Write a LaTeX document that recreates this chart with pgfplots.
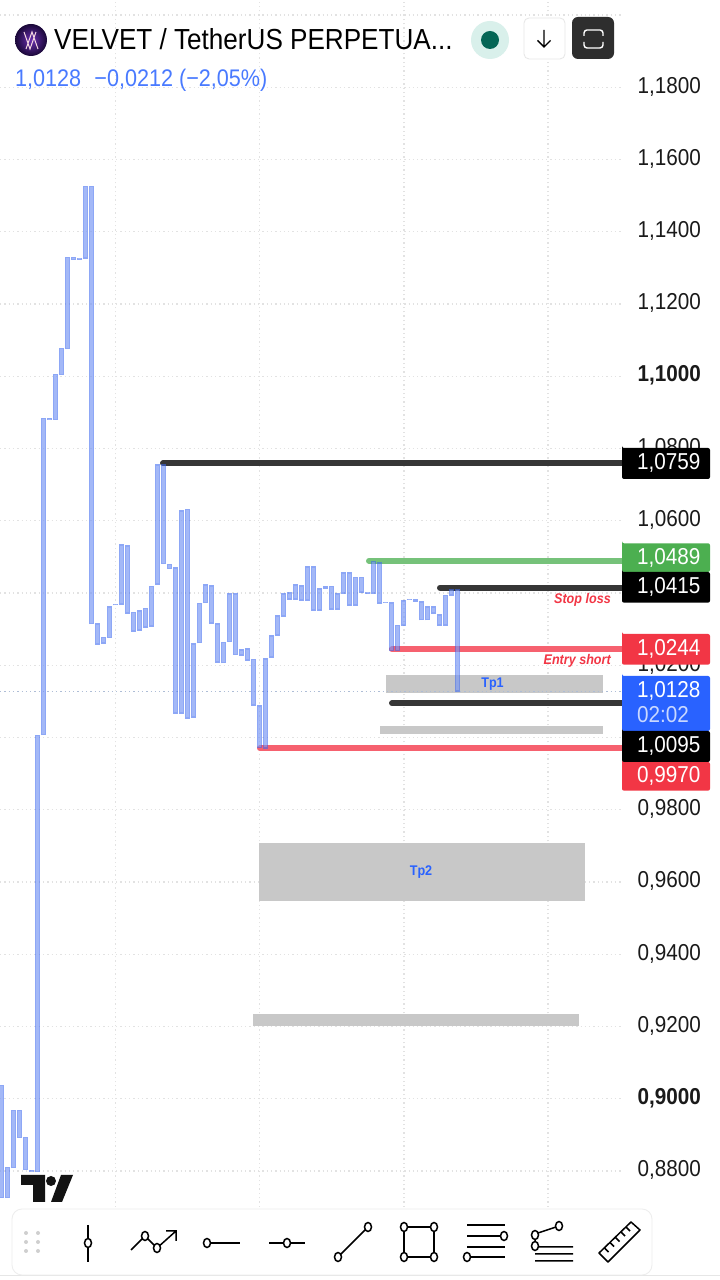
\documentclass[border=0pt]{standalone}
\usepackage{pgfplots}
\usepackage{pgfplotstable}
\usepackage{fontspec}
\pgfplotsset{compat=1.18}
\setmainfont{Liberation Sans}
\newfontfamily\rb[FakeStretch=0.9]{Liberation Sans}
\definecolor{gridc}{HTML}{E2E2E2}
\definecolor{barc}{HTML}{3C68F0}
\definecolor{tvblue}{HTML}{2962FF}
\definecolor{tvred}{HTML}{F23645}
\definecolor{tvgreen}{HTML}{4CAF50}
\definecolor{lnblack}{HTML}{363636}
\definecolor{lnred}{HTML}{F6616F}
\definecolor{lngreen}{HTML}{76C27A}
\definecolor{rectc}{HTML}{C8C8C8}
\definecolor{txtc}{HTML}{1A1A1A}
\definecolor{logoa}{HTML}{6A2FB0}
\definecolor{logob}{HTML}{1A0838}
\definecolor{dotbg}{HTML}{D9F0EB}
\definecolor{dotfg}{HTML}{056656}
\definecolor{btnedge}{HTML}{E6E6E6}
\definecolor{btndark}{HTML}{2E2E2E}
\definecolor{tvmark}{HTML}{131313}
\definecolor{baredge}{HTML}{EDEDED}
\definecolor{gripc}{HTML}{CFCFCF}
\definecolor{lastc}{HTML}{AEBDD6}
\pgfplotstableread{
x low high
1.3 0.8726 0.9038
7.3 0.8725 0.8811
13.3 0.8808 0.8969
19.3 0.8892 0.8969
25.3 0.8803 0.8894
31.3 0.8797 0.8803
37.3 0.8797 1.0007
43.3 1.0007 1.0885
49.3 1.0879 1.0885
55.3 1.0879 1.1006
61.3 1.1004 1.1078
67.3 1.1076 1.1330
73.3 1.1322 1.1330
79.3 1.1323 1.1328
85.3 1.1326 1.1527
91.3 1.0314 1.1527
97.3 1.0257 1.0316
103.3 1.0260 1.0278
109.3 1.0276 1.0363
115.3 1.0366 1.0370
121.3 1.0368 1.0535
127.3 1.0343 1.0532
133.3 1.0293 1.0347
139.3 1.0296 1.0352
145.3 1.0304 1.0358
151.3 1.0307 1.0419
157.3 1.0423 1.0756
163.3 1.0481 1.0756
169.3 1.0467 1.0480
175.3 1.0066 1.0471
181.3 1.0066 1.0629
187.3 1.0052 1.0632
193.3 1.0055 1.0261
199.3 1.0261 1.0372
205.3 1.0372 1.0424
211.3 1.0315 1.0421
217.3 1.0207 1.0316
223.3 1.0205 1.0264
229.3 1.0265 1.0399
235.3 1.0229 1.0399
241.3 1.0227 1.0244
247.3 1.0213 1.0247
253.3 1.0088 1.0217
259.3 0.9971 1.0089
265.3 0.9969 1.0219
271.3 1.0221 1.0283
277.3 1.0282 1.0338
283.3 1.0335 1.0399
289.3 1.0382 1.0402
295.3 1.0382 1.0424
301.3 1.0379 1.0421
307.3 1.0379 1.0474
313.3 1.0351 1.0474
319.3 1.0351 1.0413
325.3 1.0412 1.0419
331.3 1.0354 1.0419
337.3 1.0354 1.0399
343.3 1.0398 1.0457
349.3 1.0365 1.0457
355.3 1.0365 1.0444
361.3 1.0401 1.0444
367.3 1.0398 1.0403
373.3 1.0398 1.0489
379.3 1.0371 1.0485
385.3 1.0373 1.0375
391.3 1.0240 1.0374
397.3 1.0240 1.0311
403.3 1.0310 1.0380
409.3 1.0381 1.0383
415.3 1.0376 1.0383
421.3 1.0324 1.0377
427.3 1.0324 1.0363
433.3 1.0343 1.0363
439.3 1.0310 1.0341
445.3 1.0310 1.0394
451.3 1.0393 1.0412
457.3 1.0127 1.0412
}\bars
\begin{document}
\begin{tikzpicture}[x=1pt,y=1pt]
\useasboundingbox (0,0) rectangle (720,1280);
\fill[white] (0,0) rectangle (720,1280);
\begin{axis}[
  at={(0pt,0pt)}, anchor=south west,
  width=622pt, height=1280pt, scale only axis,
  xmin=0, xmax=622, ymin=0.84984, ymax=1.20417,
  axis line style={draw=none},
  major tick length=0pt,
  xtick={115.5,259.5,404,548}, xticklabel=\empty,
  ytick={0.86,0.88,0.90,0.92,0.94,0.96,0.98,1.00,1.02,1.04,1.06,1.08,1.10,1.12,1.14,1.16,1.18,1.20},
  yticklabels={,{0,8800},{\bfseries 0,9000},{0,9200},{0,9400},{0,9600},{0,9800},{1,0000},{1,0200},{1,0400},{1,0600},{1,0800},{\bfseries 1,1000},{1,1200},{1,1400},{1,1600},{1,1800},},
  yticklabel pos=right,
  yticklabel style={anchor=west, xshift=12pt, yshift=0.7pt, text=txtc, font=\rb\fontsize{23}{23}\selectfont},
  grid=both,
  grid style={draw=gridc, line width=1.2pt, dash pattern=on 1.3pt off 3pt},
]
% grey target zones
\addplot[draw=none, fill=rectc] coordinates {(386,1.0173)(603,1.0173)(603,1.0123)(386,1.0123)} --cycle;
\addplot[draw=none, fill=rectc] coordinates {(380,1.0032)(603,1.0032)(603,1.0010)(380,1.0010)} --cycle;
\addplot[draw=none, fill=rectc] coordinates {(259,0.9708)(585,0.9708)(585,0.9548)(259,0.9548)} --cycle;
\addplot[draw=none, fill=rectc] coordinates {(253,0.9235)(579,0.9235)(579,0.9202)(253,0.9202)} --cycle;
% last price dotted line
\addplot[draw=lastc, line width=1.2pt, dash pattern=on 1.3pt off 3pt] coordinates {(0,1.0128)(622,1.0128)};
% horizontal levels
\addplot[lnblack, line width=6pt, line cap=round] coordinates {(163,1.0759)(632,1.0759)};
\addplot[lngreen, line width=6pt, line cap=round] coordinates {(369,1.0489)(632,1.0489)};
\addplot[lnblack, line width=6pt, line cap=round] coordinates {(440,1.0415)(632,1.0415)};
\addplot[lnred, line width=6pt, line cap=round] coordinates {(392,1.0244)(632,1.0244)};
\addplot[lnblack, line width=6pt, line cap=round] coordinates {(392,1.0095)(632,1.0095)};
\addplot[lnred, line width=6pt, line cap=round] coordinates {(260,0.9970)(632,0.9970)};
% candles: outer border
\addplot[draw=none, mark=none, forget plot,
  error bars/.cd, y dir=plus, y explicit, error mark=none,
  error bar style={draw=barc, opacity=0.58, line width=5pt, line cap=butt, solid}]
  table[x=x, y=low, y error plus expr=\thisrow{high}-\thisrow{low}] {\bars};
% candles: lighter body
\addplot[draw=none, mark=none, forget plot,
  error bars/.cd, y dir=plus, y explicit, error mark=none,
  error bar style={draw=white, opacity=0.2, line width=3.2pt, line cap=butt, solid}]
  table[x=x, y expr=\thisrow{low}+0.00035, y error plus expr=\thisrow{high}-\thisrow{low}-0.0007] {\bars};
\end{axis}
\begin{scope}[y=-1pt, yshift=1280pt]
% annotations
\node[anchor=east, inner sep=0, text=tvred, font=\rb\itshape\bfseries\fontsize{14}{14}\selectfont] at (611,599.5) {Stop loss};
\node[anchor=east, inner sep=0, text=tvred, font=\rb\itshape\bfseries\fontsize{14}{14}\selectfont] at (611,661) {Entry short};
\node[inner sep=0, text=tvblue, font=\rb\bfseries\fontsize{14}{14}\selectfont] at (492.5,684) {Tp1};
\node[inner sep=0, text=tvblue, font=\rb\bfseries\fontsize{14}{14}\selectfont] at (421,872) {Tp2};
% price tags
\def\tagfont{\rb\fontsize{23}{23}\selectfont}
\fill[black, rounded corners=2pt] (622,448) -| (710,479) -| cycle;
\fill[tvgreen, rounded corners=2pt] (622,543.3) -| (710,572) -| cycle;
\fill[tvred, rounded corners=2pt] (622,634) -| (710,664.7) -| cycle;
\fill[tvred, rounded corners=2pt] (622,762) -| (710,790.7) -| cycle;
\fill[black, rounded corners=2pt] (622,572) -| (710,602.7) -| cycle;
\fill[tvblue, rounded corners=2pt] (622,676) -| (710,731) -| cycle;
\fill[black, rounded corners=2pt] (622,731) -| (710,762) -| cycle;
\node[anchor=west, inner sep=0, text=white, font=\tagfont] at (637,463) {1,0759};
\node[anchor=west, inner sep=0, text=white, font=\tagfont] at (637,557.5) {1,0489};
\node[anchor=west, inner sep=0, text=white, font=\tagfont] at (637,586.5) {1,0415};
\node[anchor=west, inner sep=0, text=white, font=\tagfont] at (637,649) {1,0244};
\node[anchor=west, inner sep=0, text=white, font=\tagfont] at (637,690.5) {1,0128};
\node[anchor=west, inner sep=0, text=white!75!tvblue, font=\tagfont] at (637,714.5) {02:02};
\node[anchor=west, inner sep=0, text=white, font=\tagfont] at (637,746) {1,0095};
\node[anchor=west, inner sep=0, text=white, font=\tagfont] at (637,776) {0,9970};
% header
\shade[inner color=logoa, outer color=logob] (31,40) circle (16);
\draw[white!85!purple, line width=1pt] (24,32) -- (30,49) -- (36,32) (26,49) -- (32,32) -- (38,49);
\node[anchor=west, inner sep=0, text=black, font=\rb\fontsize{29}{29}\selectfont] at (54,39.5) {VELVET / TetherUS PERPETUA...};
\node[anchor=west, inner sep=0, text=tvblue!85!white, font=\rb\fontsize{24}{24}\selectfont] at (15,80.5) {1,0128\hspace{0.55em}−0,0212 (−2,05\%)};
\fill[dotbg] (490,40) circle (19);
\fill[dotfg] (490,40) circle (9);
\draw[btnedge, fill=white, line width=0.8pt, rounded corners=5pt] (524,18) rectangle (565,59);
\draw[black, line width=1.4pt] (544,30) -- (544,47) (537.5,40.5) -- (544,47) -- (550.5,40.5);
\fill[btndark, rounded corners=6pt] (572,17) rectangle (614,59);
\draw[white, line width=1.4pt, rounded corners=3pt] (584,36) -- (584,30) -- (603,30) -- (603,36) (584,42) -- (584,48) -- (603,48) -- (603,42);
% TradingView mark
\fill[tvmark] (21,1175) -- (45,1175) -- (45,1202) -- (33,1202) -- (33,1185) -- (21,1185) -- cycle;
\fill[tvmark] (51,1181) circle (5);
\fill[tvmark] (61,1175) -- (73,1175) -- (62,1202) -- (51,1202) -- cycle;
% toolbar
\fill[white] (0,1209) rectangle (720,1280);
\draw[btnedge, line width=0.8pt] (0,1275.5) -- (720,1275.5);
\fill[white, rounded corners=10pt, draw=baredge, line width=0.8pt] (12,1209) rectangle (652,1275);
\foreach \a in {26,38} \foreach \b in {1233,1242,1251} \fill[gripc] (\a,\b) circle (2);
\begin{scope}[line width=1.5pt, black]
\tikzset{c/.style={draw=black, fill=white, line width=1.5pt}}
\draw (88,1225) -- (88,1262); \draw[c] (88,1243) ellipse (3.5 and 4.5);
\draw (131,1250) -- (145,1236) -- (157,1248) -- (176,1231) (166,1231) -- (176,1231) -- (176,1241);
\draw[c] (145,1236) ellipse (3.5 and 4.5); \draw[c] (157,1248) ellipse (3.5 and 4.5);
\draw (207,1243) -- (240,1243); \draw[c] (207,1243) ellipse (3.5 and 4.5);
\draw (269,1243) -- (305,1243); \draw[c] (287,1243) ellipse (3.5 and 4.5);
\draw (338,1257) -- (368,1227); \draw[c] (338,1257) ellipse (3.5 and 4.5); \draw[c] (368,1227) ellipse (3.5 and 4.5);
\draw (404,1227) rectangle (434,1257);
\foreach \p in {(404,1227),(434,1227),(404,1257),(434,1257)} \draw[c] \p ellipse (3.5 and 4.5);
\draw (467,1225) -- (505,1225) (467,1236) -- (500,1236) (467,1247) -- (505,1247) (467,1257) -- (505,1257);
\draw[c] (504,1236) ellipse (3.5 and 4.5); \draw[c] (467,1257) ellipse (3.5 and 4.5);
\draw (535,1234) -- (559,1226) (535,1234) -- (535,1246) (535,1247) -- (573,1247) (535,1254) -- (573,1254) (535,1261) -- (573,1261);
\draw[c] (535,1235) ellipse (3.5 and 4.5); \draw[c] (559,1226) ellipse (3.5 and 4.5); \draw[c] (535,1246) ellipse (3.5 and 4.5);
\draw[line join=round] (599,1253) -- (631,1222) -- (640,1230) -- (608,1262) -- cycle;
\draw (604.5,1248) -- (608.5,1252) (610,1242.5) -- (614,1246.5) (615.5,1237.5) -- (619.5,1241.5) (621,1232) -- (625,1236) (626,1227) -- (630,1231);
\end{scope}
\end{scope}
\end{tikzpicture}
\end{document}
